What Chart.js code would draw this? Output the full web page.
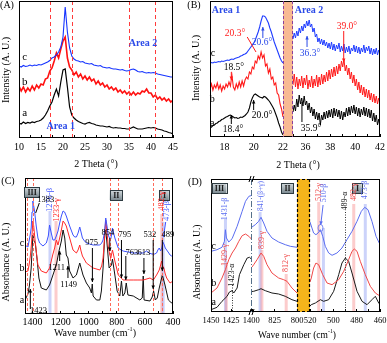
<!DOCTYPE html>
<html><head><meta charset="utf-8">
<script src="https://cdn.jsdelivr.net/npm/chart.js@4.4.1/dist/chart.umd.min.js"></script>
<style>
html,body{margin:0;padding:0;background:#fff;width:387px;height:343px;overflow:hidden}
canvas{position:absolute;left:0;top:0}
</style></head><body>
<canvas id="cA" width="387" height="343"></canvas>
<canvas id="cB1" width="387" height="343"></canvas>
<canvas id="cB2" width="387" height="343"></canvas>
<canvas id="cC" width="387" height="343"></canvas>
<canvas id="cD1" width="387" height="343"></canvas>
<canvas id="cD2" width="387" height="343"></canvas>
<canvas id="cD3" width="387" height="343"></canvas>
<script>
// ---------------- DATA ----------------
// (A) XRD, 2 theta 10-45
const A_theta = [10,10.5,11,11.5,12,12.5,13,13.5,14,14.5,15,15.5,16,16.5,17,17.5,18,18.5,19,19.5,20,20.5,21,21.5,22,22.5,23,23.5,24,24.5,25,25.5,26,26.5,27,27.5,28,28.5,29,29.5,30,30.5,31,31.5,32,32.5,33,33.5,34,34.5,35,35.5,36,36.5,37,37.5,38,38.5,39,39.5,40,40.5,41,41.5,42,42.5,43,43.5,44,44.5,45];
const A_c = [72,71,72.5,71.5,72,73,72,73,72.5,73.5,73,74,75,76,77.5,80,81,83,86,91,101,131,106,90,82,79,77.5,77,76,76.5,75,74.5,74,74.5,73,72.5,72,72.5,71,70.5,70,70.5,69.5,69,69,68.5,68,68.5,67.5,67,67.5,68.5,69,68,66.5,66,66.5,65.5,65,65.5,65,65.5,65,64,63.5,63,62.5,62,61.5,61,61];
const A_b = [52,47,51,46,50,47,52,48,53,50,54,53,59,60,67,70,77,85,80,89,97,101,80,71,68,63,66,61,64,59,62,58,61,57,59,54,57,53,55,51,53,49,51,48,50,46,48,45,47,44,46,43,46,43,45,44,47,46,49,45,45,41,43,39,41,38,40,37,39,36,38];
const A_a = [15,14,16,14.5,15.5,15,16,15.5,16.5,17,18,20,23,27,32,36,43,49,42,56,68,69,51,31,23,20,18,16.5,15.5,14.5,14,15,15.5,14.5,14,13,12.5,12,12,11.5,11,11.5,10.5,10,10.5,10,10,9.5,9.5,9,9,10,11,10,9,9,9,9.5,10,10.5,10,10.5,10,9,8.5,8,7,6.5,5.5,5,4];

// (B) XRD zoom, Area 1 (17-22) and Area 2 (35-42)
const B_thetaL = [17,17.1,17.2,17.3,17.4,17.5,17.6,17.7,17.8,17.9,18,18.1,18.2,18.3,18.4,18.5,18.6,18.7,18.8,18.9,19,19.1,19.2,19.3,19.4,19.5,19.6,19.7,19.8,19.9,20,20.1,20.2,20.3,20.4,20.5,20.6,20.7,20.8,20.9,21,21.1,21.2,21.3,21.4,21.5,21.6,21.7,21.8,21.9,22];
const B_cL = [74,74.5,74,75,74.5,75,75.5,75,76,75.5,76,76.5,77,76.5,77.5,78,77.5,78.5,79,79.5,80,81,81.5,82.5,83,84,86,88,90,92,94,97,101,105,110,116,121,121,120,117,114,109,105,100,95,91,87,83,79,76,74];
const B_bL = [48,53,47,52,49,54,48,52,46,51,48,53,50,55,51,62,50,47,53,49,55,50,56,51,57,60,58,65,63,70,68,76,74,81,78,85,79,82,71,73,64,68,58,60,52,54,44,42,33,28,20];
const B_aL = [9,10,11.5,12,13.5,14,15.5,16,17.5,18,19,20,20.5,21.5,22,21,20,19,19.5,18.5,19,20,19.5,20.5,21.5,23,25,29,35,39,42,43,42,41,40,39.5,39,40.5,40,38.5,37,35,32.5,30,27,23,19,14,10,5,2];
const B_thetaR = [35,35.1,35.2,35.3,35.4,35.5,35.6,35.7,35.8,35.9,36,36.1,36.2,36.3,36.4,36.5,36.6,36.7,36.8,36.9,37,37.1,37.2,37.3,37.4,37.5,37.6,37.7,37.8,37.9,38,38.1,38.2,38.3,38.4,38.5,38.6,38.7,38.8,38.9,39,39.1,39.2,39.3,39.4,39.5,39.6,39.7,39.8,39.9,40,40.1,40.2,40.3,40.4,40.5,40.6,40.7,40.8,40.9,41,41.1,41.2,41.3,41.4,41.5,41.6,41.7,41.8,41.9,42];
const B_cR = [98,104,99,106,101,109,104,111,106,113,109,116,111,117,110,113,105,109,100,103,95,99,93,98,92,97,91,95,89,94,88,95,87,93,86,92,88,94,85,91,86,93,84,90,85,91,83,89,86,92,85,91,84,90,83,89,85,92,84,90,86,91,83,89,82,88,83,89,82,87,84];
const B_bR = [52,63,50,60,48,58,51,61,49,59,52,62,48,57,50,61,49,58,51,62,50,60,52,63,53,62,55,65,56,67,58,68,60,70,61,71,63,73,66,76,70,78,66,72,62,69,58,65,54,62,51,58,47,55,44,52,42,50,40,48,39,47,37,44,35,43,34,41,33,39,35];
const B_aR = [25,32,26,38,30,42,33,39,31,41,32,36,27,34,24,30,21,28,18,25,17,24,12,22,17,25,18,26,19,27,20,28,19,29,21,28,20,27,18,26,17,25,20,29,21,30,22,31,24,32,23,30,21,29,20,28,22,30,21,29,20,28,19,27,16,24,15,22,12,18,10];

// (C) FTIR 1454-400 cm-1
const C_wn_c = [1454,1445,1433,1421,1416,1410,1404,1398,1392,1386,1374,1362,1350,1326,1302,1288,1279,1267,1255,1243,1231,1219,1207,1195,1183,1172,1160,1148,1136,1112,1100,1088,1076,1064,1055,1045,1030,1017,993,969,945,921,908,898,888,879,870,862,852,843,837,831,825,814,800,790,770,755,720,683,650,612,600,588,570,550,530,517,508,498,488,480,473,465,455,445,430,421,410,400];
const C_abs_c = [68,68,67,76,80,86,102,113,108,103,88,76,71,68,71,78,89,81,74,74,78,83,91,98,103,102,98,93,88,79,77,77,81,87,82,76,73,71,70,69,69,69,71,74,82,96,88,79,76,75,80,86,82,76,70,66,64,63,62,61,61,61,62,63,61,60,60,61,64,66,63,66,72,70,66,64,61,59,58,57];
const C_wn_b = [1454,1433,1424,1416,1408,1398,1392,1386,1374,1362,1338,1302,1279,1267,1255,1243,1231,1219,1207,1195,1183,1172,1160,1136,1112,1088,1076,1064,1055,1045,1017,969,921,908,898,888,879,870,862,852,843,837,831,814,800,790,755,720,683,650,612,564,540,517,498,488,481,473,465,455,445,421,400];
const C_abs_b = [42,43,50,58,70,93,88,79,63,49,43,41,46,53,60,66,74,69,76,84,93,91,88,76,64,61,64,69,63,58,51,46,44,48,56,75,94,82,69,60,56,60,64,53,45,39,34,34,34,34,34,36,34,39,44,49,53,48,46,40,36,31,33];
const C_wn_a = [1454,1433,1423,1410,1398,1390,1381,1369,1355,1338,1302,1279,1255,1231,1212,1195,1183,1171,1160,1148,1136,1112,1088,1064,1041,1017,993,981,975,969,945,921,910,898,886,879,869,855,838,831,814,798,779,767,757,743,733,721,683,636,619,612,606,564,548,538,526,512,498,476,457,433,410,400];
const C_abs_a = [14,20,28,46,79,73,71,56,36,26,24,29,39,49,63,73,84,76,59,56,43,36,39,51,39,31,26,21,30,18,14,14,23,46,79,84,69,46,49,55,39,23,18,33,18,21,31,19,18,14,16,38,14,13,17,23,14,16,26,39,29,14,11,13];

// (D) FTIR broken axis: 1450-1400 | 850-800 | 520-460
const D1_wn_c = [1450,1442.5,1436.3,1433.3,1432.1,1430.8,1427.9,1423.75,1417.5,1411.25,1407.1,1402.9,1399];
const D1_c = [60.7,62.3,64.7,70.7,82.3,74,70,73.3,85.7,100.7,110.7,115.7,116.7];
const D1_wn_b = [1450,1442.5,1436.3,1432.1,1430,1427.9,1423.75,1419.6,1415.4,1411.25,1407.1,1402.9,1399];
const D1_b = [19,24,34,42.3,47.3,52.3,59,64,70.7,76.3,78,75.7,72.3];
const D1_wn_a = [1450,1442.5,1436.3,1430,1427.1,1423.75,1421.7,1417.5,1414.6,1409.2,1405,1402.1,1399];
const D1_a = [2.3,4.7,10.7,15.7,20,21.3,19,24,37.3,47.3,54,54.7,52.3];
const D2_wn_c = [850,846.3,842.6,840,837,833.3,827.8,820.4,813,807.4,800];
const D2_c = [85,87.3,90.7,94.7,89,80.7,74,70,67.3,65.7,64.7];
const D2_wn_b = [850,848.1,844.4,840,837,833.3,827.8,820.4,814.8,811.1,805.6,800];
const D2_b = [45,47.3,52.3,59,55.7,47.3,39,34,32.3,30.7,24,19];
const D2_wn_a = [850,848.1,842.6,840,835.2,827.8,820.4,813,805.6,800];
const D2_a = [20.5,20.7,22.3,23.3,21.3,19,18,15.7,12.3,10.7];
const D3_wn_c = [520,518.9,516.9,514.9,513.1,511.1,509.1,506.9,504,501.1,496.9,492.6,488.3,484,479.7,476,473.1,470.3,466.9,463.4,459.7];
const D3_c = [90,86,79,77.3,79,82.3,75.7,65.7,59,56.7,59,64,72.3,80.7,90.7,100.7,104.7,102.3,90.7,75.7,66.7];
const D3_wn_b = [520,518.9,516.9,514.9,512.6,509.1,505.4,501.1,495.4,491.1,486.9,484,482,479.7,476.9,472.6,468.3,464,459.7];
const D3_b = [30,34,44,49,47.3,37.3,29,27.3,32.3,40.7,52.3,60.7,63,60.7,50.7,37.3,25.7,19,15.7];
const D3_wn_a = [520,518.9,515.4,511.1,508.3,504,499.7,495.4,492.6,489.7,486.9,484,479.7,475.4,471.1,466.9,464,461.1,459.7];
const D3_a = [6,7.3,9,12.3,10.7,12.3,20.7,37.3,49,54,50.7,39,20.7,10.7,7.3,12.3,15.7,9,7.3];

// ---------------- HELPERS ----------------
const FONT = '"Liberation Serif", "Times New Roman", serif';
Chart.defaults.font.family = FONT;
Chart.defaults.color = '#000';
const W = 387, H = 343, XH = 22;
const BLUE = '#1f3cff', RED = '#ff1a1a', BLK = '#000';
const pts = (xs, ys) => xs.map((x, i) => ({x: x, y: ys[i]}));
const ds = (xs, ys, color, w) => ({data: pts(xs, ys), borderColor: color, borderWidth: w || 1, pointRadius: 0, tension: 0, fill: false});
const X = (ch, v) => ch.scales.x.getPixelForValue(v);
const Y = (ch, v) => ch.scales.y.getPixelForValue(v);

function T(ctx, s, x, y, o) {
  o = o || {};
  ctx.save();
  ctx.font = (o.bold ? 'bold ' : '') + (o.size || 10) + 'px ' + FONT;
  ctx.fillStyle = o.color || '#000';
  ctx.textAlign = o.align || 'center';
  ctx.textBaseline = 'middle';
  ctx.translate(x, y);
  if (o.rot) ctx.rotate(-Math.PI / 2);
  ctx.fillText(s, 0, 0);
  ctx.restore();
}
function AR(ctx, x1, y1, x2, y2, color, head) {
  ctx.save();
  ctx.strokeStyle = color; ctx.fillStyle = color; ctx.lineWidth = 1; ctx.setLineDash([]);
  ctx.beginPath(); ctx.moveTo(x1, y1); ctx.lineTo(x2, y2); ctx.stroke();
  if (head !== false) {
    const a = Math.atan2(y2 - y1, x2 - x1), L = 4;
    ctx.beginPath(); ctx.moveTo(x2, y2);
    ctx.lineTo(x2 - L * Math.cos(a - 0.45), y2 - L * Math.sin(a - 0.45));
    ctx.lineTo(x2 - L * Math.cos(a + 0.45), y2 - L * Math.sin(a + 0.45));
    ctx.closePath(); ctx.fill();
  }
  ctx.restore();
}
function arrowV(ch, v, h1, h2, color, head) { AR(ch.ctx, X(ch, v), Y(ch, h1), X(ch, v), Y(ch, h2), color, head); }
function frame(ctx, ca, sides) {
  ctx.save(); ctx.strokeStyle = '#000'; ctx.lineWidth = 1; ctx.setLineDash([]);
  const l = Math.round(ca.left) + 0.5, r = Math.round(ca.right) - 0.5, t = Math.round(ca.top) + 0.5, b = Math.round(ca.bottom) - 0.5;
  ctx.beginPath();
  if (sides.includes('t')) { ctx.moveTo(l - 0.5, t); ctx.lineTo(r + 0.5, t); }
  if (sides.includes('b')) { ctx.moveTo(l - 0.5, b); ctx.lineTo(r + 0.5, b); }
  if (sides.includes('l')) { ctx.moveTo(l, t); ctx.lineTo(l, b); }
  if (sides.includes('r')) { ctx.moveTo(r, t); ctx.lineTo(r, b); }
  ctx.stroke(); ctx.restore();
}
function vline(ch, v, color, dash, h0, w) {
  const ctx = ch.ctx, ca = ch.chartArea;
  const x = Math.round(X(ch, v)) + 0.5;
  ctx.save(); ctx.strokeStyle = color; ctx.lineWidth = w || 1; ctx.setLineDash(dash || []);
  ctx.beginPath(); ctx.moveTo(x, h0 == null ? ca.top : Y(ch, h0)); ctx.lineTo(x, ca.bottom); ctx.stroke();
  ctx.restore();
}
function strip(ch, v, h0, color, w) {
  const ctx = ch.ctx, ca = ch.chartArea, x = X(ch, v), y = Y(ch, h0);
  w = w || 3;
  ctx.save(); ctx.fillStyle = color; ctx.fillRect(x - w / 2, y, w, ca.bottom - y); ctx.restore();
}
function rbox(ctx, x, y, s, sz) {
  const w = s.length * 2.6 + 7, h = sz || 10;
  ctx.save();
  const g = ctx.createLinearGradient(0, y - h / 2, 0, y + h / 2);
  g.addColorStop(0, '#d5dcdf'); g.addColorStop(1, '#7d8b92');
  ctx.fillStyle = g; ctx.fillRect(x - w / 2, y - h / 2, w, h);
  ctx.strokeStyle = '#2d3a40'; ctx.lineWidth = 1; ctx.strokeRect(Math.round(x - w / 2) + 0.5, Math.round(y - h / 2) + 0.5, Math.round(w), Math.round(h));
  ctx.restore();
  T(ctx, s, x + 0.5, y + 0.5, {size: 8, bold: true, color: '#1a1a1a'});
}
function wn(ctx, cx, cy, size) {
  ctx.save();
  const f = size + 'px ' + FONT, fs = (size * 0.62).toFixed(1) + 'px ' + FONT;
  ctx.font = f; const a = 'Wave number (cm', c = ')';
  const wa = ctx.measureText(a).width, wc = ctx.measureText(c).width;
  ctx.font = fs; const wb = ctx.measureText('-1').width;
  let x = cx - (wa + wb + wc) / 2;
  ctx.textBaseline = 'middle'; ctx.textAlign = 'left'; ctx.fillStyle = '#000';
  ctx.font = f; ctx.fillText(a, x, cy); x += wa;
  ctx.font = fs; ctx.fillText('-1', x, cy - size * 0.33); x += wb;
  ctx.font = f; ctx.fillText(c, x, cy);
  ctx.restore();
}

function mk(id, box, xc, yc, datasets, under, over) {
  return new Chart(document.getElementById(id), {
    type: 'line',
    data: {datasets: datasets},
    options: {
      responsive: false, animation: false, devicePixelRatio: 1,
      layout: {padding: {left: box[0], top: box[1], right: W - box[2], bottom: H - box[3] - XH}},
      plugins: {legend: {display: false}, tooltip: {enabled: false}},
      elements: {point: {radius: 0}, line: {tension: 0}},
      scales: {
        x: {
          type: 'linear', min: xc.min, max: xc.max, reverse: !!xc.rev,
          afterFit: s => { s.height = XH; s.paddingLeft = 0; s.paddingRight = 0; },
          border: {display: false},
          grid: {drawOnChartArea: false, drawTicks: true, tickLength: -3, color: '#000', lineWidth: 1},
          ticks: {stepSize: xc.step, includeBounds: false, autoSkip: false, maxRotation: 0, minRotation: 0,
            padding: xc.pad, color: '#000', font: {size: xc.fs, family: FONT},
            callback: v => xc.lab(v)}
        },
        y: {type: 'linear', display: false, min: yc.min, max: yc.max}
      }
    },
    plugins: [{
      id: 'ann_' + id,
      beforeDatasetsDraw(ch) { if (under) under(ch, ch.ctx); },
      afterDraw(ch) { if (over) over(ch, ch.ctx); }
    }]
  });
}

// ---------------- PANEL A ----------------
const chA = mk('cA', [19, 1, 173, 138],
  {min: 10, max: 45, step: 2.5, fs: 10, pad: 6.5, lab: v => (v % 5 === 0 ? String(v) : '')},
  {min: 0, max: 137},
  [ds(A_theta, A_c, '#1533ff', 1.1), ds(A_theta, A_b, '#ff1010', 1.6), ds(A_theta, A_a, BLK, 1.2)],
  null,
  (ch, c) => {
    [17, 22, 35, 41].forEach(v => vline(ch, v, '#ff3b3b', [4, 3]));
    frame(c, ch.chartArea, 'ltrb');
    T(c, 'Area 2', X(ch, 38.2), Y(ch, 95), {bold: true, color: '#2a4ae8', size: 10});
    T(c, 'Area 1', X(ch, 19.5), Y(ch, 12), {bold: true, color: '#2a4ae8', size: 10});
    T(c, 'c', X(ch, 11.3), Y(ch, 81), {size: 11});
    T(c, 'b', X(ch, 11.3), Y(ch, 56), {size: 11});
    T(c, 'a', X(ch, 11.3), Y(ch, 25), {size: 11});
    T(c, '2 Theta (°)', 96, 164, {size: 10});
    T(c, 'Intensity (A. U.)', 6, 70, {size: 10, rot: true});
    T(c, '(A)', 7, 5, {size: 10});
  });

// ---------------- PANEL B ----------------
const chB1 = mk('cB1', [210, 1, 283, 137],
  {min: 17, max: 22, step: 1, fs: 10, pad: 7, lab: v => (v % 2 === 0 ? String(v) : '')},
  {min: 0, max: 136},
  [ds(B_thetaL, B_cL, BLUE, 1.1), ds(B_thetaL, B_bL, RED, 1.1), ds(B_thetaL, B_aL, BLK, 1.1)],
  null,
  (ch, c) => {
    frame(c, ch.chartArea, 'ltb');
    T(c, 'Area 1', X(ch, 18.1), Y(ch, 127), {bold: true, color: '#2a4ae8', size: 10});
    T(c, 'c', X(ch, 17.2), Y(ch, 84), {size: 10});
    T(c, 'b', X(ch, 17.15), Y(ch, 38), {size: 10});
    T(c, 'a', X(ch, 17.15), Y(ch, 14), {size: 10});
    T(c, '20.6°', X(ch, 20.56), Y(ch, 95), {size: 9.5, color: '#2a4ae8'});
    arrowV(ch, 20.62, 99, 110, '#2a4ae8');
    T(c, '20.3°', X(ch, 18.71), Y(ch, 104), {size: 9.5, color: RED});
    AR(c, X(ch, 19.55), Y(ch, 100), X(ch, 20.15), Y(ch, 85), RED, false);
    T(c, '18.5°', X(ch, 18.64), Y(ch, 70), {size: 9.5});
    arrowV(ch, 18.46, 65, 57, RED);
    T(c, '20.0°', X(ch, 20.56), Y(ch, 22), {size: 9.5});
    arrowV(ch, 19.99, 27, 37, BLK);
    T(c, '18.4°', X(ch, 18.58), Y(ch, 8), {size: 9.5});
    arrowV(ch, 18.46, 13, 22, BLK);
    T(c, '2 Theta (°)', 298, 165, {size: 10});
    T(c, 'Intensity (A. U.)', 196, 68, {size: 10, rot: true});
    T(c, '(B)', 194, 5, {size: 10});
  });
const chB2 = mk('cB2', [293, 1, 380, 137],
  {min: 35, max: 42, step: 1, fs: 10, pad: 7, lab: v => (v % 2 === 0 ? String(v) : '')},
  {min: 0, max: 136},
  [ds(B_thetaR, B_cR, BLUE, 1), ds(B_thetaR, B_bR, RED, 1), ds(B_thetaR, B_aR, BLK, 1)],
  null,
  (ch, c) => {
    frame(c, ch.chartArea, 'trb');
    const l = chB1.chartArea.right, r = ch.chartArea.left, t = ch.chartArea.top, b = ch.chartArea.bottom;
    c.save();
    c.fillStyle = '#f8b993'; c.fillRect(l, t, r - l, b - t);
    c.strokeStyle = '#000'; c.lineWidth = 1;
    c.beginPath(); c.moveTo(l - 0.5, t + 0.5); c.lineTo(r, t + 0.5); c.moveTo(l - 0.5, b - 0.5); c.lineTo(r, b - 0.5); c.stroke();
    c.strokeStyle = '#8a3f9c'; c.setLineDash([3, 2]);
    c.beginPath(); c.moveTo(l + 0.5, t); c.lineTo(l + 0.5, b); c.moveTo(r - 0.5, t); c.lineTo(r - 0.5, b); c.stroke();
    c.restore();
    T(c, 'Area 2', X(ch, 36.29), Y(ch, 127), {bold: true, color: '#2a4ae8', size: 10});
    T(c, '36.3°', X(ch, 36.37), Y(ch, 84), {size: 9.5, color: '#2a4ae8'});
    arrowV(ch, 36.13, 90, 101, '#2a4ae8');
    T(c, '39.0°', X(ch, 39.34), Y(ch, 111), {size: 9.5, color: RED});
    arrowV(ch, 39.08, 106, 75, RED);
    T(c, '35.9°', X(ch, 36.45), Y(ch, 9), {size: 9.5});
    arrowV(ch, 35.72, 15, 35, BLK, false);
  });

// ---------------- PANEL C ----------------
const LB = 'rgba(110,130,240,0.35)', LR = 'rgba(245,110,110,0.35)';
const chC = mk('cC', [25, 178, 173, 314],
  {min: 400, max: 1454, rev: true, step: 100, fs: 10, pad: 5.5, lab: v => (v % 200 === 0 ? String(v) : '')},
  {min: 0, max: 136},
  [ds(C_wn_c, C_abs_c, '#3c52ff', 1), ds(C_wn_b, C_abs_b, '#ff2a2a', 1), ds(C_wn_a, C_abs_a, '#111', 1)],
  (ch, c) => {
    strip(ch, 1276, 103, LB); strip(ch, 1233, 93, LR);
    strip(ch, 480, 100, LR); strip(ch, 470, 92, LB);
  },
  (ch, c) => {
    [1443, 1400, 850, 793, 543, 479].forEach(v => vline(ch, v, '#ff6a5a', [3, 2]));
    frame(c, ch.chartArea, 'ltrb');
    rbox(c, X(ch, 1407), Y(ch, 122), 'III');
    rbox(c, X(ch, 807), Y(ch, 119), 'II');
    rbox(c, X(ch, 464), Y(ch, 119), 'I');
    T(c, '1276-β', X(ch, 1279), Y(ch, 114), {size: 8.5, rot: true, color: '#3c52ff'});
    T(c, '1233-γ', X(ch, 1229), Y(ch, 104), {size: 8.5, rot: true, color: RED});
    T(c, '482-γ', X(ch, 479), Y(ch, 113), {size: 8.5, rot: true, color: RED});
    T(c, '473-β', X(ch, 441), Y(ch, 103), {size: 8.5, rot: true, color: '#3c52ff'});
    AR(c, X(ch, 452), Y(ch, 92), X(ch, 468), Y(ch, 77), '#3c52ff', false);
    const s = 8.5;
    T(c, '1383', X(ch, 1307), Y(ch, 114), {size: s});
    AR(c, X(ch, 1352), Y(ch, 111), X(ch, 1378), Y(ch, 101), BLK, false);
    T(c, '1211', X(ch, 1229), Y(ch, 46), {size: s});
    arrowV(ch, 1207, 53, 63, BLK);
    T(c, '1149', X(ch, 1143), Y(ch, 29), {size: s});
    arrowV(ch, 1148, 36, 48, BLK);
    T(c, '975', X(ch, 979), Y(ch, 71), {size: s});
    arrowV(ch, 974, 66, 32, BLK);
    T(c, '854', X(ch, 864), Y(ch, 81), {size: s});
    arrowV(ch, 850, 76, 63, BLK);
    T(c, '795', X(ch, 743), Y(ch, 79), {size: s});
    arrowV(ch, 767, 74, 36, BLK);
    T(c, '763', X(ch, 693), Y(ch, 61), {size: s});
    arrowV(ch, 736, 58, 34, BLK);
    T(c, '613', X(ch, 607), Y(ch, 61), {size: s});
    arrowV(ch, 607, 56, 40, BLK);
    T(c, '532', X(ch, 564), Y(ch, 79), {size: s});
    arrowV(ch, 541, 74, 25, BLK);
    T(c, '489', X(ch, 436), Y(ch, 79), {size: s});
    arrowV(ch, 476, 74, 43, BLK);
    T(c, '1423', X(ch, 1357), Y(ch, 3.5), {size: s});
    arrowV(ch, 1416, 5, 25, BLK);
    const lx = ch.chartArea.left - 3;
    T(c, 'c', lx, Y(ch, 71), {size: 10});
    T(c, 'b', lx, Y(ch, 46), {size: 10});
    T(c, 'a', lx, Y(ch, 14), {size: 10});
    wn(c, 95, 333, 10);
    T(c, 'Absorbance (A. U.)', 6, 262, {size: 10, rot: true});
    T(c, '(C)', 8, 181, {size: 10});
  });

// ---------------- PANEL D ----------------
const DB = '#5a6df0', DR = '#f04848', DK = '#1a1a1a';
const chD1 = mk('cD1', [211, 179, 252, 312],
  {min: 1399, max: 1450, rev: true, step: 25, fs: 8.5, pad: 7, lab: v => String(v)},
  {min: 0, max: 133},
  [ds(D1_wn_c, D1_c, DB, 1), ds(D1_wn_b, D1_b, DR, 1), ds(D1_wn_a, D1_a, DK, 1)],
  (ch, c) => {
    strip(ch, 1432, 93, LB); strip(ch, 1431, 47, LR);
  },
  (ch, c) => {
    frame(c, ch.chartArea, 'ltb');
    vline(ch, 1423.75, '#333', [1, 1.5], 27);
    rbox(c, X(ch, 1440), Y(ch, 124), 'III');
    T(c, '1431-β', X(ch, 1432.3), Y(ch, 103), {size: 8, rot: true, color: DB});
    T(c, '1429-γ', X(ch, 1432.6), Y(ch, 57), {size: 8, rot: true, color: DR});
    T(c, '1423-α', X(ch, 1423.75), Y(ch, 37), {size: 8, rot: true, color: DK});
    T(c, 'c', X(ch, 1446.6), Y(ch, 66), {size: 10});
    T(c, 'b', X(ch, 1446.6), Y(ch, 29), {size: 10});
    T(c, 'a', X(ch, 1446.6), Y(ch, 10), {size: 10});
    wn(c, 297, 335, 9.5);
    T(c, 'Absorbance (A. U.)', 197, 262, {size: 9.5, rot: true});
    T(c, '(D)', 195, 182, {size: 10});
  });
const chD2 = mk('cD2', [252, 179, 297, 312],
  {min: 800, max: 850, rev: true, step: 25, fs: 8.5, pad: 7, lab: v => (v === 850 ? '' : String(v))},
  {min: 0, max: 133},
  [ds(D2_wn_c, D2_c, DB, 1), ds(D2_wn_b, D2_b, DR, 1), ds(D2_wn_a, D2_a, DK, 1)],
  (ch, c) => {
    strip(ch, 841, 100, LB); strip(ch, 839, 62, LR); strip(ch, 812, 38, LR);
  },
  (ch, c) => {
    frame(c, ch.chartArea, 'tb');
    const ca = ch.chartArea, x = Math.round(ca.left) - 0.5;
    c.save(); c.strokeStyle = '#55708a'; c.lineWidth = 1; c.setLineDash([6, 2, 1, 2]);
    c.beginPath(); c.moveTo(x, ca.top); c.lineTo(x, ca.bottom); c.stroke();
    c.setLineDash([]); c.strokeStyle = '#000';
    [ca.top, ca.bottom].forEach(yy => {
      c.beginPath(); c.moveTo(x - 2.5, yy + 3); c.lineTo(x - 0.5, yy - 3); c.moveTo(x + 0.5, yy + 3); c.lineTo(x + 2.5, yy - 3); c.stroke();
    });
    c.restore();
    rbox(c, X(ch, 811), Y(ch, 124), 'II');
    T(c, '841-(β+γ)', X(ch, 840.5), Y(ch, 116), {size: 7.5, rot: true, color: DB});
    T(c, '839-γ', X(ch, 838.5), Y(ch, 72), {size: 8, rot: true, color: DR});
    T(c, '812-γ', X(ch, 812), Y(ch, 49), {size: 8, rot: true, color: DR});
  });
const chD3 = mk('cD3', [310, 179, 380, 312],
  {min: 460, max: 520, rev: true, step: 10, fs: 8.5, pad: 7, lab: v => (v % 20 === 0 ? String(v) : '')},
  {min: 0, max: 133},
  [ds(D3_wn_c, D3_c, DB, 1), ds(D3_wn_b, D3_b, DR, 1), ds(D3_wn_a, D3_a, DK, 1)],
  (ch, c) => {
    strip(ch, 512.5, 110, LR); strip(ch, 508.5, 84, LB);
    strip(ch, 482.5, 108, LR); strip(ch, 472.6, 108, LB);
  },
  (ch, c) => {
    frame(c, ch.chartArea, 'trb');
    const l = chD2.chartArea.right, r = ch.chartArea.left, t = ch.chartArea.top, b = ch.chartArea.bottom;
    c.save();
    c.fillStyle = '#f5b51b'; c.fillRect(l, t, r - l, b - t);
    c.strokeStyle = '#000'; c.lineWidth = 1.2; c.setLineDash([3, 2]);
    c.beginPath(); c.moveTo(l + 0.5, t); c.lineTo(l + 0.5, b); c.moveTo(r - 0.5, t); c.lineTo(r - 0.5, b);
    c.moveTo(l, t + 0.5); c.lineTo(r, t + 0.5); c.moveTo(l, b - 0.5); c.lineTo(r, b - 0.5); c.stroke();
    c.restore();
    vline(ch, 489.7, '#333', [1, 1.5], 100);
    rbox(c, X(ch, 479.7), Y(ch, 124), 'I');
    T(c, '512-γ', X(ch, 512.5), Y(ch, 120), {size: 8, rot: true, color: DR});
    T(c, '510-β', X(ch, 508.3), Y(ch, 119), {size: 8, rot: true, color: DB});
    AR(c, X(ch, 508.8), Y(ch, 107), X(ch, 510.8), Y(ch, 87), DB);
    c.save(); c.strokeStyle = DB; c.lineWidth = 0.8; c.beginPath();
    c.ellipse(X(ch, 511), Y(ch, 84), 2.5, 3.5, 0, 0, Math.PI * 2); c.stroke(); c.restore();
    T(c, '489-α', X(ch, 489.7), Y(ch, 111), {size: 8, rot: true, color: DK});
    T(c, '482-γ', X(ch, 482.5), Y(ch, 120), {size: 8, rot: true, color: DR});
    T(c, '473-β', X(ch, 472.6), Y(ch, 122), {size: 8, rot: true, color: DB});
  });
</script>
</body></html>
